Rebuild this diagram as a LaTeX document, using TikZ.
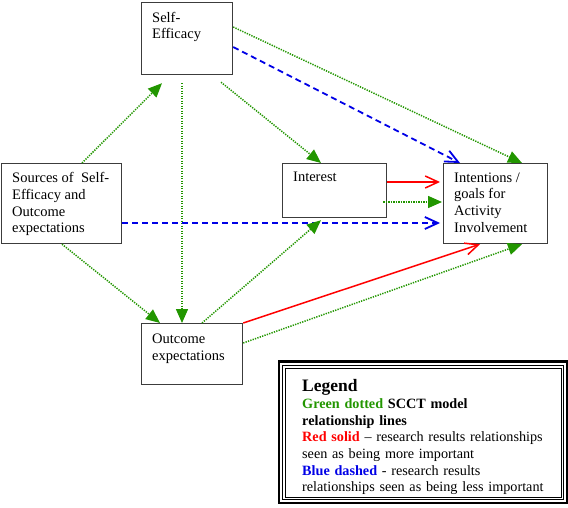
\documentclass[tikz,border=0pt]{standalone}
\usepackage{fontspec}
\setmainfont{Liberation Serif}
\usetikzlibrary{arrows.meta}
\definecolor{sgreen}{RGB}{34,150,0}
\definecolor{sblue}{RGB}{0,0,230}
\definecolor{sred}{RGB}{255,0,0}
\definecolor{sframe}{RGB}{60,60,60}

\begin{document}
\begin{tikzpicture}[x=1pt, y=-1pt,
	box/.style={draw=sframe, line width=1.2pt, rectangle, inner sep=0pt, anchor=north west},
	lbl/.style={anchor=north west, inner sep=0pt, align=left, font=\fontsize{14.5}{16.7}\selectfont},
	scct/.style={sgreen, line width=1.5pt, dash pattern=on 1.3pt off 1.2pt, -{Triangle[length=14pt,width=12pt]}},
	strong/.style={sred, line width=1.5pt, -{Straight Barb[length=13pt,width=12pt]}},
	weak/.style={sblue, line width=1.8pt, dash pattern=on 6pt off 4pt, -{Straight Barb[length=13pt,width=12pt]}}]
\useasboundingbox (0,0) rectangle (568,508);

\path (141,2) node[box, minimum width=91pt, minimum height=72pt] (se) {}
		(0.6,163) node[box, minimum width=120.4pt, minimum height=80pt] (src) {}
		(282,163) node[box, minimum width=104pt, minimum height=54pt] (int) {}
		(443,163) node[box, minimum width=104pt, minimum height=80pt] (goal) {}
		(141,323) node[box, minimum width=101pt, minimum height=61pt] (oe) {}
		([shift={(11,9.7)}]se.north west) node[lbl] (selbl) {Self-\\Efficacy}
		([shift={(11.4,9.3)}]src.north west) node[lbl] (srclbl) {Sources of\ \ Self-\\Efficacy and\\Outcome\\expectations}
		([shift={(11,9.3)}]int.north west) node[lbl] (intlbl) {Interest}
		([shift={(11,9.3)}]goal.north west) node[lbl] (goallbl) {Intentions /\\goals for\\Activity\\Involvement}
		([shift={(11,11)}]oe.north west) node[lbl] (oelbl) {Outcome\\expectations}
;

\draw[scct] ([shift={(81.4,0)}]src.north west) -- ([shift={(21,8)}]se.south west);
\draw[scct] ([shift={(41,8)}]se.south west) -- ([shift={(41,0)}]oe.north west);
\draw[scct] ([shift={(61.4,0)}]src.south west) -- ([shift={(19,0)}]oe.north west);
\draw[scct] ([shift={(80,7)}]se.south west) -- ([shift={(39,0)}]int.north west);
\draw[scct] ([shift={(0,25)}]se.north east) -- ([shift={(79,0)}]goal.north west);
\draw[weak] ([shift={(0,45)}]se.north east) -- ([shift={(17,0)}]goal.north west);
\draw[strong] ([shift={(0,19)}]int.north east) -- ([shift={(-3,19)}]goal.north west);
\draw[scct] ([shift={(-4,39)}]int.north east) -- ([shift={(-1,39)}]goal.north west);
\draw[weak] ([shift={(0,60)}]src.north east) -- ([shift={(-3,60)}]goal.north west);
\draw[scct] ([shift={(61,0)}]oe.north west) -- ([shift={(39,2)}]int.south west);
\draw[strong] (oe.north east) -- ([shift={(37,0)}]goal.south west);
\draw[scct] ([shift={(0,20)}]oe.north east) -- ([shift={(79,0)}]goal.south west);

\draw[line width=2.4pt] (278.8,361.5) rectangle (566.8,503);
\draw[line width=1pt] (282.6,365.3) rectangle (563.4,499.5);
\draw[line width=1pt] (285.8,368.6) rectangle (561,497);
\path (302,379.3) node[lbl, text width=258pt, font=\fontsize{14.2}{16.7}\selectfont] (legend) {{\fontsize{17.5}{16.7}\selectfont\bfseries Legend}\\
		\textbf{\textcolor{sgreen}{Green dotted} SCCT model}\\
		\textbf{relationship lines}\\
		\textbf{\textcolor{sred}{Red solid}} -- research results relationships\\
		seen as being more important\\
		\textbf{\textcolor{sblue}{Blue dashed}} - research results\\
		relationships seen as being less important};

\end{tikzpicture}
\end{document}
